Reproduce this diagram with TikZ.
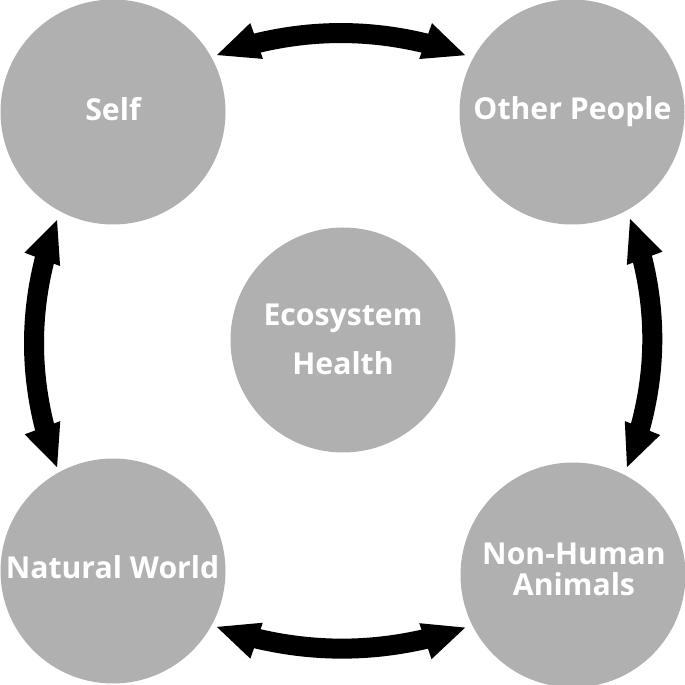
\documentclass[tikz,border=0pt]{standalone}
\usepackage{fontspec}
\setmainfont{Open Sans}
\usetikzlibrary{calc}
\definecolor{circgray}{RGB}{176,176,176}
\newcommand\myDblArrow[3]{% #1 tip a, #2 quadratic control, #3 tip b
  \coordinate (#1s) at ($0.81*(#1)+0.18*(#2)+0.01*(#3)$);
  \coordinate (#1e) at ($0.01*(#1)+0.18*(#2)+0.81*(#3)$);
  \coordinate (#1m) at ($0.09*(#1)+0.82*(#2)+0.09*(#3)$);
  \draw[shaft] (#1s) .. controls ($(#1s)!2/3!(#1m)$) and ($(#1e)!2/3!(#1m)$) .. (#1e);
  \coordinate (#1q) at ($(#1)!42pt!(#2)$);
  \coordinate (#3q) at ($(#3)!42pt!(#2)$);
  \fill[head] (#1) -- ($(#1q)!19pt!90:(#1)$) -- ($(#1q)!19pt!-90:(#1)$) -- cycle;
  \fill[head] (#3) -- ($(#3q)!19pt!90:(#3)$) -- ($(#3q)!19pt!-90:(#3)$) -- cycle;
}
\begin{document}
\begin{tikzpicture}[x=1pt,y=1pt,
  circ/.style={circle,fill=circgray,minimum size=225pt,inner sep=0pt},
  lbl/.style={text=white,font=\fontsize{30.2}{36}\selectfont\bfseries,anchor=base,inner sep=0pt},
  shaft/.style={line width=20pt,draw=black,line cap=butt},
  head/.style={fill=black}]
\useasboundingbox (0,0) rectangle (685,685);
\node[circ] (self) at (113,573) {};
\node[circ] (other) at (572,573) {};
\node[circ] (eco) at (343,345) {};
\node[circ] (natural) at (113,114) {};
\node[circ] (animals) at (573,110) {};
\node[lbl] (selft) at (113,564) {Self};
\node[lbl] (othert) at (572.5,565) {Other People};
\node[lbl] (ecot1) at (343,359) {Ecosystem};
\node[lbl] (ecot2) at (343,310) {Health};
\node[lbl] (animalst1) at (574,120) {Non-Human};
\node[lbl] (animalst2) at (574,89) {Animals};
\node[lbl] (naturalt) at (112.5,106) {Natural World};
% arrow end points, relative to the circles
\path (self.center) ++(28.7:118.6) coordinate (ta);
\path (other.center) ++(152:121) coordinate (tb);
\coordinate (tc) at (341,674);
\path (self.center) ++(242.6:121.7) coordinate (la);
\path (natural.center) ++(118.3:118) coordinate (lb);
\coordinate (lc) at (11,342);
\path (other.center) ++(298.5:121.7) coordinate (ra);
\path (animals.center) ++(63.4:120.7) coordinate (rb);
\coordinate (rc) at (676,342);
\path (natural.center) ++(-28.3:118) coordinate (ba);
\path (animals.center) ++(206:120) coordinate (bb);
\coordinate (bc) at (341,15);
\myDblArrow{ta}{tc}{tb}
\myDblArrow{la}{lc}{lb}
\myDblArrow{ra}{rc}{rb}
\myDblArrow{ba}{bc}{bb}
\end{tikzpicture}
\end{document}
